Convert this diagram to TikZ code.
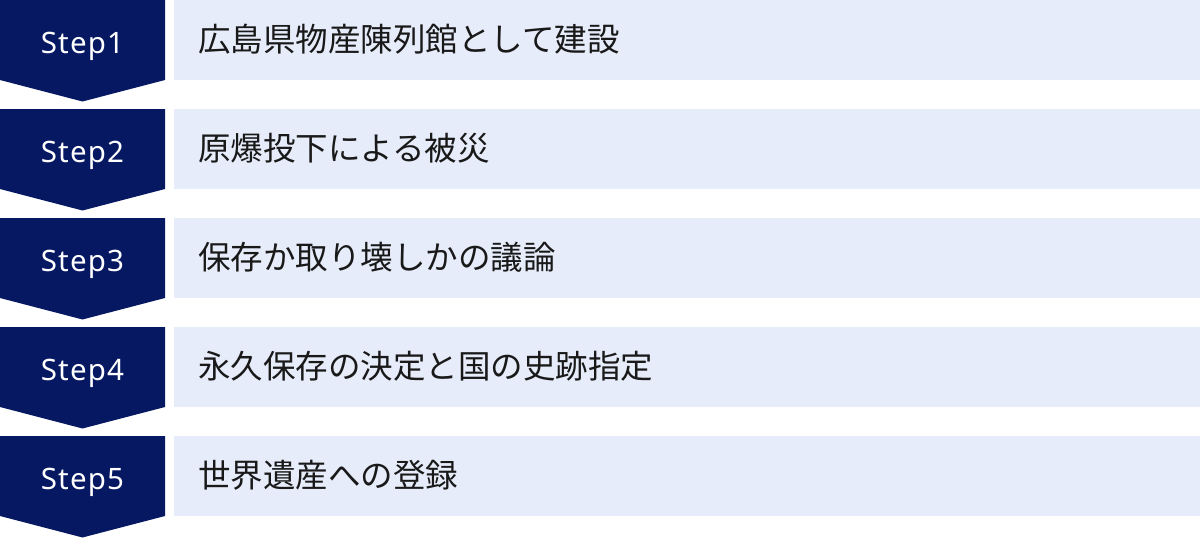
\documentclass[tikz,border=0pt]{standalone}
\usepackage{fontspec}
\setmainfont{Noto Sans CJK JP}
\newfontfamily\jp{Noto Sans CJK JP}
\newfontfamily\lat[LetterSpace=4]{Noto Sans}
\definecolor{navy}{HTML}{061862}
\definecolor{pale}{HTML}{E6ECF9}
\begin{document}
\begin{tikzpicture}[x=1pt,y=-1pt,
  steplabel/.style={text=white,font=\lat\fontsize{29.5}{29.5}\selectfont,anchor=base,inner sep=0pt},
  desclabel/.style={text=black!90,font=\jp\fontsize{32.5}{32.5}\selectfont,anchor=base west,inner sep=0pt}]
\useasboundingbox (0,0) rectangle (1200,538);
\foreach \i/\t [count=\k from 0] in {1/広島県物産陳列館として建設,2/原爆投下による被災,3/保存か取り壊しかの議論,4/永久保存の決定と国の史跡指定,5/世界遺産への登録}{
  \pgfmathsetmacro{\yy}{\k*109}
  \fill[navy] (0,\yy) -- (165,\yy) -- (165,\yy+80) -- (82.5,\yy+101.5) -- (0,\yy+80) -- cycle;
  \fill[pale] (174,\yy) rectangle (1200,\yy+80);
  \node[steplabel] (s\i) at (82.5,\yy+53.5) {Step\i};
  \node[desclabel] (d\i) at (198,\yy+51) {\t};
}
\end{tikzpicture}
\end{document}
